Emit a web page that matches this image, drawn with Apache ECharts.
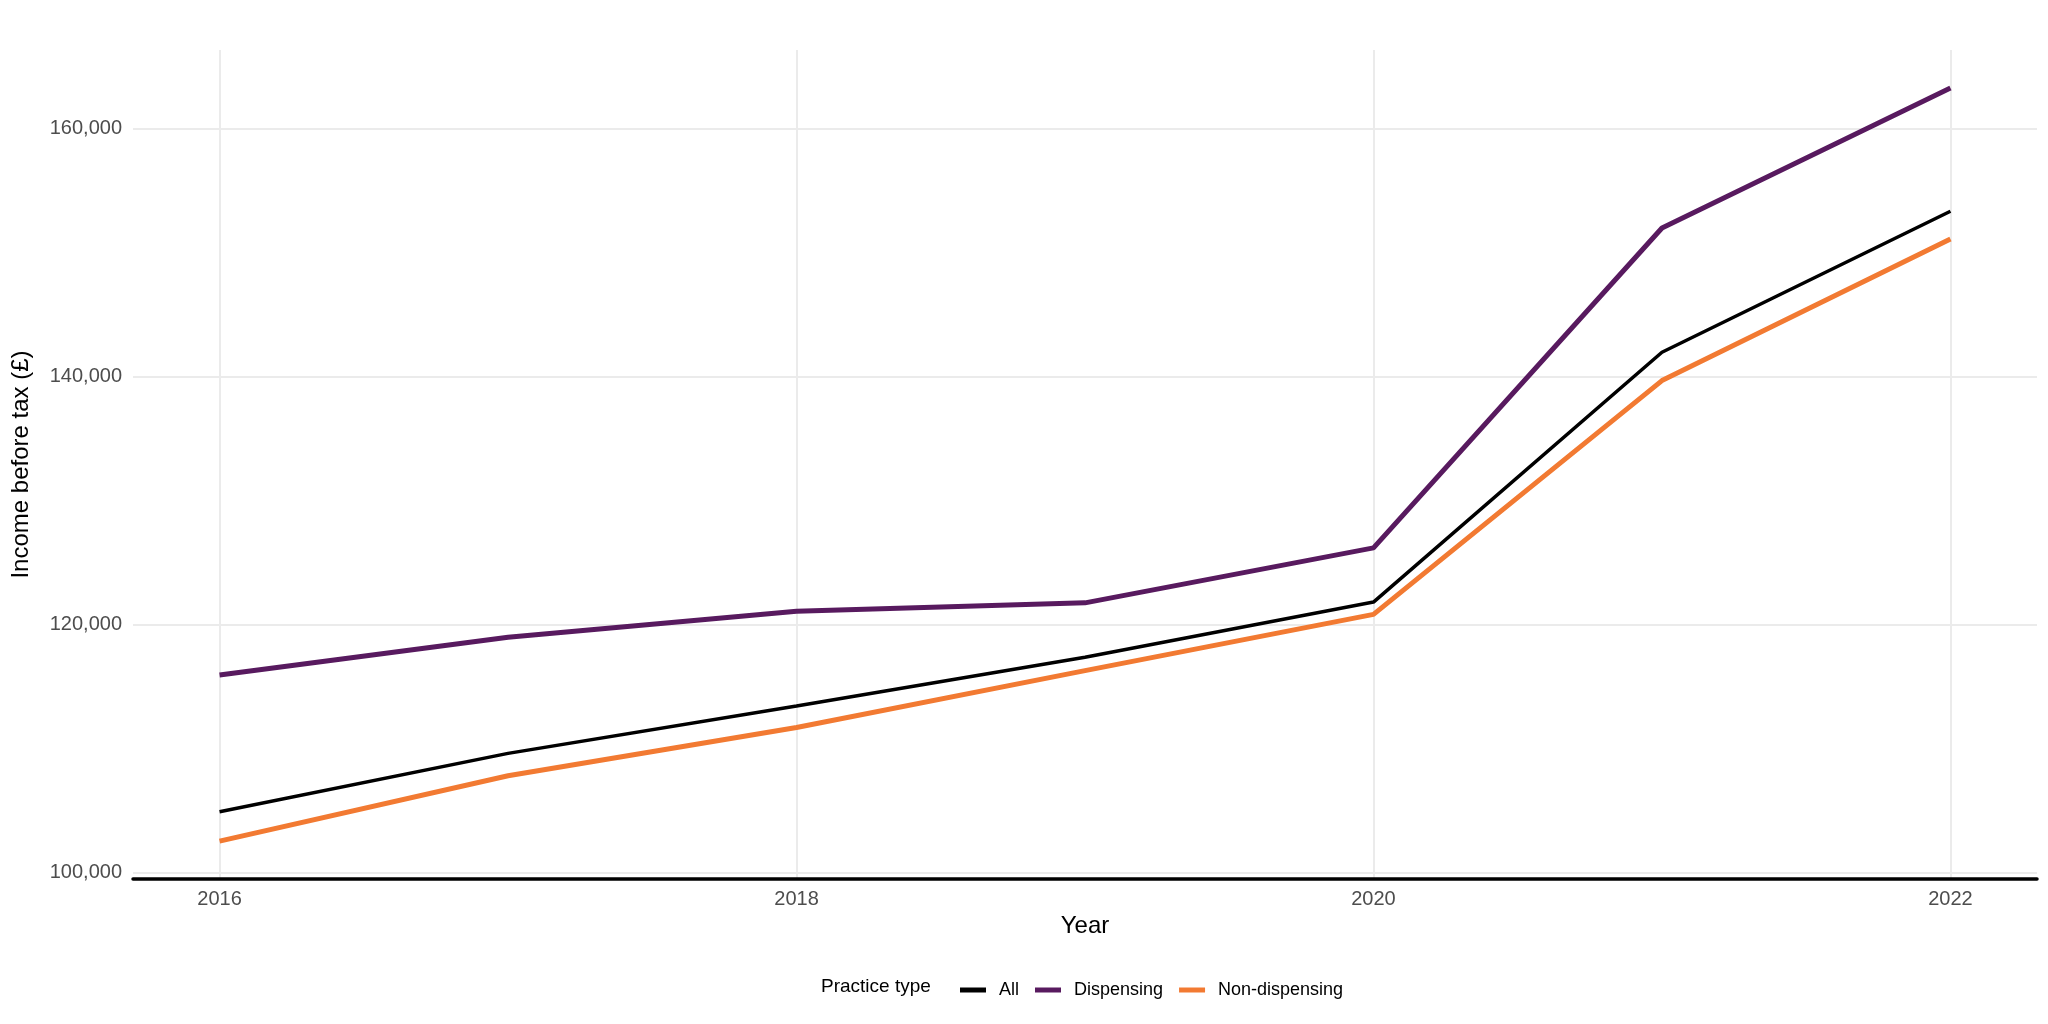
<!DOCTYPE html>
<html>
<head>
<meta charset="utf-8">
<script src="https://cdn.jsdelivr.net/npm/echarts@6/dist/echarts.min.js"></script>
<style>
  html, body { margin: 0; padding: 0; background: #fff; }
  #chart { width: 2048px; height: 1024px; }
</style>
</head>
<body>
<div id="chart"></div>
<script>
// data
var years = [2016, 2017, 2018, 2019, 2020, 2021, 2022];
var allPractices = [104920, 109630, 113450, 117380, 121830, 141980, 153350];
var dispensing = [115950, 118990, 121100, 121770, 126200, 152000, 163290];
var nonDispensing = [102550, 107830, 111720, 116300, 120840, 139690, 151100];
var xTicks = [2016, 2018, 2020, 2022];
var yTicks = [100000, 120000, 140000, 160000];

function pairs(vals) {
  return years.map(function (y, i) { return [y, vals[i]]; });
}

var font = "Liberation Sans, Helvetica, Arial, sans-serif";
var chart = echarts.init(document.getElementById("chart"), null, { renderer: "canvas" });

var option = {
  backgroundColor: "#fff",
  animation: false,
  grid: { left: 133, right: 11, top: 50, bottom: 145, containLabel: false },
  xAxis: {
    type: "value",
    min: 2015.7,
    max: 2022.3,
    name: "Year",
    nameLocation: "middle",
    nameGap: 33,
    nameTextStyle: { color: "#000", fontSize: 24, fontFamily: font },
    axisLine: { show: true, onZero: false, lineStyle: { color: "#000", width: 3.5 } },
    axisTick: { show: false, customValues: xTicks },
    axisLabel: {
      customValues: xTicks,
      color: "#4d4d4d",
      fontSize: 20,
      fontFamily: font,
      margin: 10,
      formatter: function (v) { return String(v); }
    },
    splitLine: { show: true, lineStyle: { color: "#ebebeb", width: 2 } }
  },
  yAxis: {
    type: "value",
    min: 99500,
    max: 166350,
    name: "Income before tax (£)",
    nameLocation: "middle",
    nameGap: 100,
    nameTextStyle: { color: "#000", fontSize: 24, fontFamily: font },
    axisLine: { show: false },
    axisTick: { show: false, customValues: yTicks },
    axisLabel: {
      customValues: yTicks,
      color: "#4d4d4d",
      fontSize: 20,
      fontFamily: font,
      margin: 11,
      formatter: function (v) { return v.toLocaleString("en-GB"); }
    },
    splitLine: { show: true, lineStyle: { color: "#ebebeb", width: 2 } }
  },
  legend: {
    left: 955,
    top: 976,
    orient: "horizontal",
    icon: "rect",
    itemWidth: 26,
    itemHeight: 5,
    itemGap: 16,
    textStyle: { color: "#000", fontSize: 18, fontFamily: font, padding: [0, 0, 0, 8] },
    data: ["All", "Dispensing", "Non-dispensing"]
  },
  graphic: [{
    type: "text",
    left: 821,
    top: 977,
    style: { text: "Practice type", fill: "#000", fontSize: 19, fontFamily: font }
  }],
  series: [
    {
      name: "All",
      type: "line",
      data: pairs(allPractices),
      showSymbol: false,
      color: "#000000",
      lineStyle: { color: "#000000", width: 3.5 },
      z: 3
    },
    {
      name: "Dispensing",
      type: "line",
      data: pairs(dispensing),
      showSymbol: false,
      color: "#581a5f",
      lineStyle: { color: "#581a5f", width: 5 },
      z: 2
    },
    {
      name: "Non-dispensing",
      type: "line",
      data: pairs(nonDispensing),
      showSymbol: false,
      color: "#f27a32",
      lineStyle: { color: "#f27a32", width: 5 },
      z: 2
    }
  ]
};

chart.setOption(option);
</script>
</body>
</html>
